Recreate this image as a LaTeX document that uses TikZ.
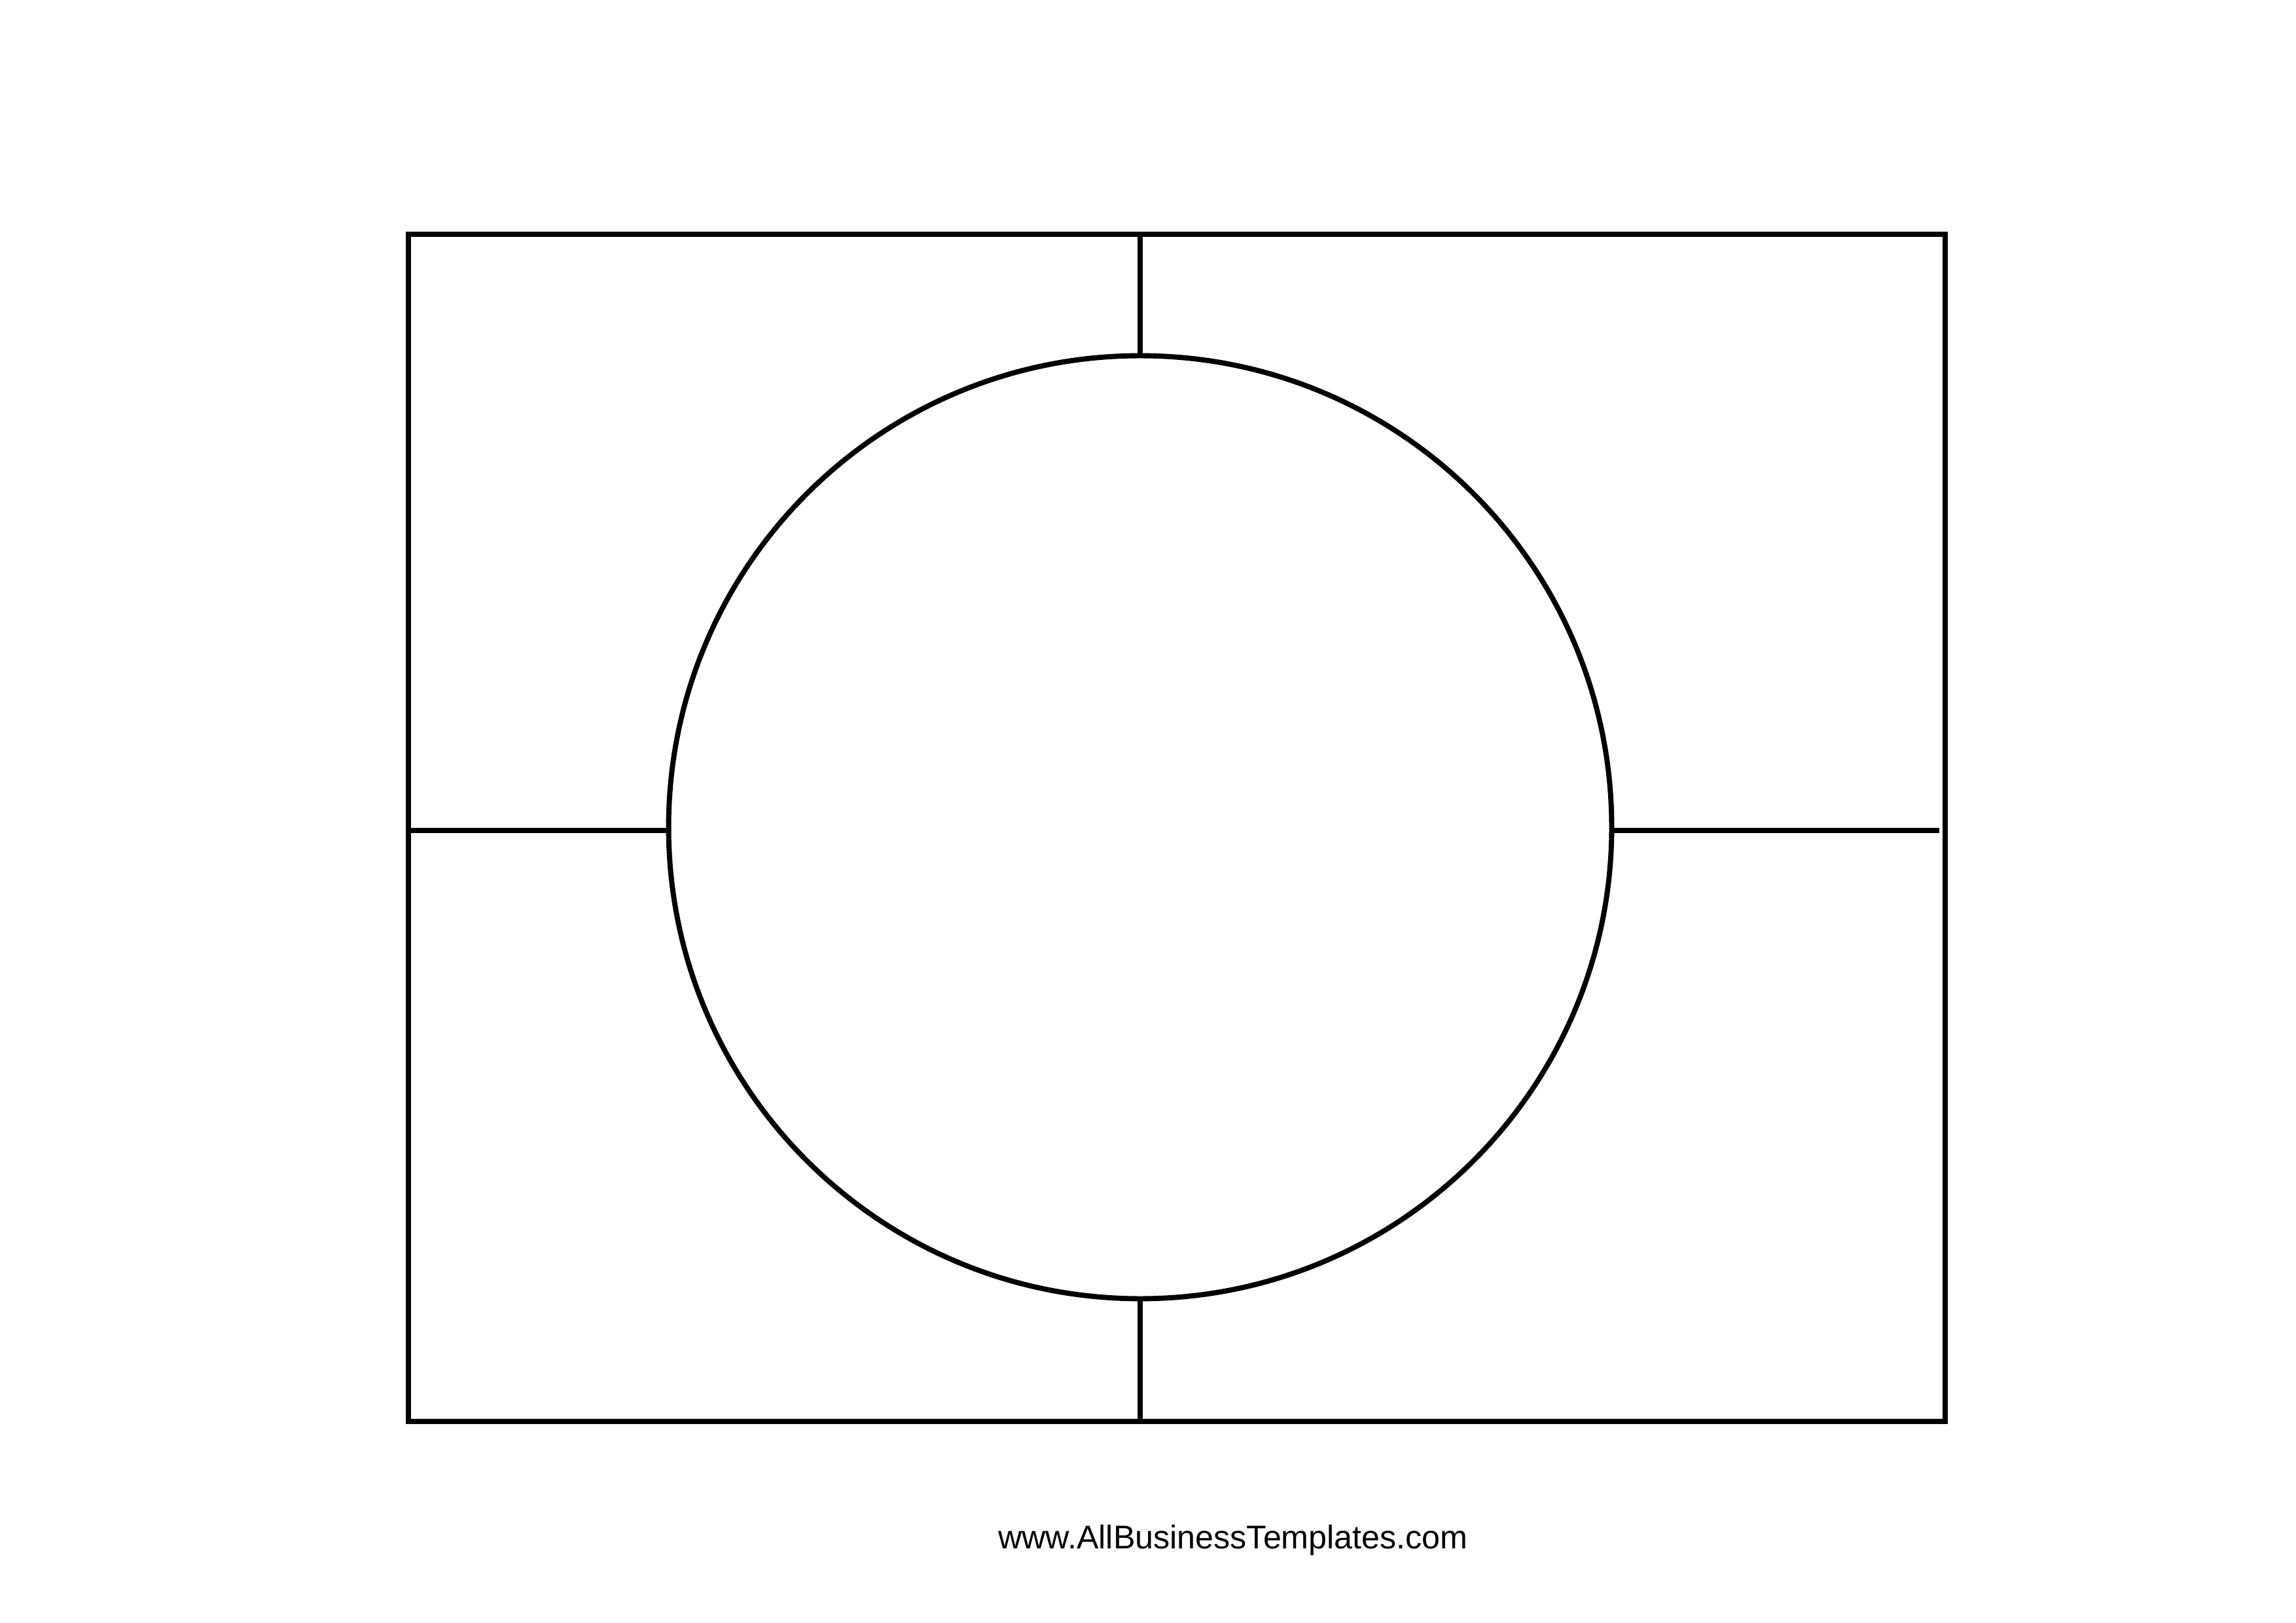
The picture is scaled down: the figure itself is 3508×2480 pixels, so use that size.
\documentclass[tikz,border=0pt]{standalone}
\usepackage{fontspec}
\setmainfont{Liberation Sans}
\usepackage{tikz}

\tikzset{
  frame/.style={draw, line width=1.9pt, inner sep=0pt, outer sep=0pt},
  divider/.style={line width=1.9pt}
}

\begin{document}
\begin{tikzpicture}[x=0.0846647mm, y=-0.0846647mm]
  \useasboundingbox (0,0) rectangle (3508,2480);
  \node (board) [frame, rectangle, minimum width=198.8mm, minimum height=153.6mm] at (1798,1265) {};
  \node (core) [frame, circle, minimum size=122.0mm] at (1742,1264) {};
  \coordinate (rend) at (2963,1269);
  \draw[divider] (core.north |- board.north) -- (core.north);
  \draw[divider] (core.south) -- (core.south |- board.south);
  \draw[divider] (board.west |- rend) -- (core.west |- rend);
  \draw[divider] (core.east |- rend) -- (rend);
  \node (url) [anchor=base, font=\fontsize{12.1}{14}\selectfont] at (1884,2366) {www.AllBusinessTemplates.com};
\end{tikzpicture}
\end{document}
